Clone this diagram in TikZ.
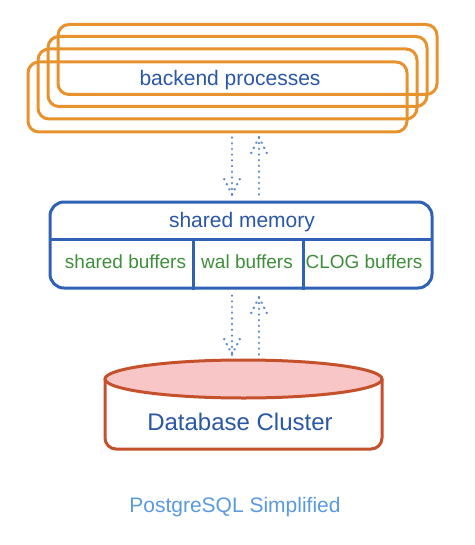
\documentclass[tikz,border=0pt]{standalone}
\usepackage{fontspec}
\setmainfont{Liberation Sans}
\usetikzlibrary{shapes.geometric,calc}
\definecolor{cOrange}{HTML}{E8922E}
\definecolor{cBlue}{HTML}{2F62B4}
\definecolor{cText}{HTML}{2B57A7}
\definecolor{cGreen}{HTML}{3E8E3A}
\definecolor{cRed}{HTML}{C4512B}
\definecolor{cPink}{HTML}{F8C6C6}
\definecolor{cLight}{HTML}{5A9BE0}
\definecolor{cDot}{HTML}{5B86C9}
\tikzset{
  procbox/.style={draw=cOrange, line width=3pt, rounded corners=11pt, minimum width=379pt, minimum height=70pt, inner sep=0pt},
  membox/.style={draw=cBlue, line width=3pt, rounded corners=14pt, minimum width=382pt, minimum height=86pt, inner sep=0pt},
  divline/.style={draw=cBlue, line width=3pt},
  cell/.style={text=cGreen, font=\fontsize{19}{22}\selectfont, inner sep=0pt},
  dotline/.style={draw=cDot, line width=2.5pt, line cap=round, dash pattern=on 0.2pt off 5.5pt},
}
\begin{document}
\begin{tikzpicture}[x=1pt,y=-1pt]
\useasboundingbox (0,0) rectangle (474,545);
\fill[white] (0,0) rectangle (474,545);
% backend process stack
\node[procbox] (p4) at (247.5,59.5) {};
\node[procbox] (p3) at (237.5,71.5) {};
\node[procbox] (p2) at (227.5,84) {};
\node[procbox] (p1) at (217.5,97) {};
\node[text=cText, font=\fontsize{21}{24}\selectfont, inner sep=0pt] (bp) at (230,80) {backend processes};
% shared memory
\node[membox] (sm) at (241,245) {};
\coordinate (hl) at (50,239);
\coordinate (hr) at (432,239);
\draw[divline] (hl) -- (hr);
\coordinate (v1t) at (193,239);
\coordinate (v2t) at (303,239);
\draw[divline] (v1t) -- (v1t |- sm.south);
\draw[divline] (v2t) -- (v2t |- sm.south);
\node[text=cText, font=\fontsize{21}{24}\selectfont, inner sep=0pt] (smt) at (242,222) {shared memory};
\node[cell] (c1) at (125.5,262) {shared buffers};
\node[cell] (c2) at (247,262) {wal buffers};
\node[cell] (c3) at (364,262) {CLOG buffers};
% database cluster
\draw[draw=cRed, line width=3pt, fill=white, rounded corners=11pt] (105,379) -- (105,449) -- (382,449) -- (382,379);
\node[ellipse, draw=cRed, fill=cPink, line width=3pt, minimum width=277pt, minimum height=38pt, inner sep=0pt] (db) at (243.5,379) {};
\node[text=cText, font=\fontsize{24}{28}\selectfont, inner sep=0pt] (dbt) at (240,422) {Database Cluster};
% caption
\node[text=cLight, font=\fontsize{21}{24}\selectfont, inner sep=0pt] (cap) at (235,507) {PostgreSQL Simplified};
% connectors
\coordinate (xa) at (232,0);
\coordinate (xb) at (259,0);
\coordinate (a1s) at ($(xa |- p1.south)+(0,4)$);
\coordinate (a1e) at ($(xa |- sm.north)+(0,-6)$);
\coordinate (a2s) at ($(xb |- sm.north)+(0,-6)$);
\coordinate (a2e) at ($(xb |- p1.south)+(0,4)$);
\coordinate (a3s) at ($(xa |- sm.south)+(0,6)$);
\coordinate (a3e) at ($(xa |- db.north)+(0,-4)$);
\coordinate (a4s) at ($(xb |- db.north)+(0,-4)$);
\coordinate (a4e) at ($(xb |- sm.south)+(0,8)$);
\foreach \s/\e/\d in {a1s/a1e/-1, a2s/a2e/1, a3s/a3e/-1, a4s/a4e/1}{
  \draw[dotline] (\s) -- (\e);
  \draw[dotline] (\e) -- ++(-8,\d*16);
  \draw[dotline] (\e) -- ++(8,\d*16);
}
\end{tikzpicture}
\end{document}
